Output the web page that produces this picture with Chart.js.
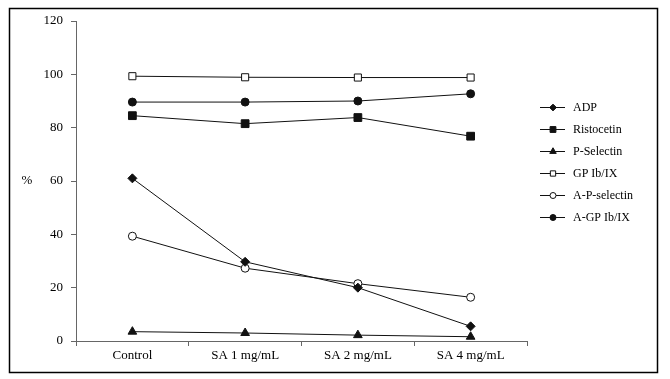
<!DOCTYPE html>
<html>
<head>
<meta charset="utf-8">
<script src="https://cdn.jsdelivr.net/npm/chart.js@4.4.1/dist/chart.umd.min.js"></script>
<style>
  html, body { margin: 0; padding: 0; background: #fff; }
  #wrap { width: 670px; height: 379px; }
</style>
</head>
<body>
<div id="wrap"><canvas id="chart" width="670" height="379"></canvas></div>
<script>
// categories and series (%)
const categories = ['Control', 'SA 1 mg/mL', 'SA 2 mg/mL', 'SA 4 mg/mL'];
const adp = [61, 29.7, 20, 5.5];
const ristocetin = [84.5, 81.5, 83.8, 76.8];
const pSelectin = [3.5, 3, 2.2, 1.6];
const gpIbIX = [99.3, 98.9, 98.8, 98.8];
const aPSelectin = [39.3, 27.3, 21.5, 16.4];
const aGpIbIX = [89.6, 89.6, 90, 92.7];
const yTicks = [0, 20, 40, 60, 80, 100, 120];

const serif = '"Liberation Serif", "Times New Roman", serif';

function series(label, data, style, radius, fill) {
  return {
    label: label,
    data: data,
    borderColor: '#111',
    borderWidth: 1,
    pointStyle: style,
    pointRadius: radius,
    pointHoverRadius: radius,
    pointBackgroundColor: fill,
    pointBorderColor: '#111',
    pointBorderWidth: 1,
    tension: 0,
    fill: false
  };
}

const datasets = [
  series('ADP', adp, 'rectRot', 4.5, '#111'),
  series('Ristocetin', ristocetin, 'rect', 5.5, '#111'),
  series('P-Selectin', pSelectin, 'triangle', 5, '#111'),
  series('GP Ib/IX', gpIbIX, 'rect', 5, '#fff'),
  series('A-P-selectin', aPSelectin, 'circle', 4, '#fff'),
  series('A-GP Ib/IX', aGpIbIX, 'circle', 4, '#111')
];

// frame, "%" label and line+marker legend
const extras = {
  id: 'extras',
  afterDraw(chart) {
    const ctx = chart.ctx;
    ctx.save();
    ctx.strokeStyle = '#000';
    ctx.lineWidth = 1.5;
    ctx.strokeRect(9.5, 8.5, 648, 364);

    ctx.fillStyle = '#000';
    ctx.font = '13px ' + serif;
    ctx.textAlign = 'center';
    ctx.textBaseline = 'middle';
    const ys = chart.scales.y;
    ctx.fillText('%', 27, ys.getPixelForValue(60));

    ctx.font = '12px ' + serif;
    ctx.textAlign = 'left';
    chart.data.datasets.forEach((ds, i) => {
      const y = 107.5 + i * 22;
      ctx.strokeStyle = '#111';
      ctx.lineWidth = 1;
      ctx.beginPath();
      ctx.moveTo(540, y);
      ctx.lineTo(565, y);
      ctx.stroke();
      ctx.fillStyle = ds.pointBackgroundColor;
      ctx.strokeStyle = '#111';
      Chart.helpers.drawPoint(ctx, {
        pointStyle: ds.pointStyle,
        radius: ds.pointRadius * 0.75,
        rotation: 0,
        borderWidth: 1
      }, 553, y);
      ctx.fillStyle = '#000';
      ctx.fillText(ds.label, 573, y);
    });
    ctx.restore();
  }
};

new Chart(document.getElementById('chart'), {
  type: 'line',
  data: { labels: categories, datasets: datasets },
  options: {
    responsive: false,
    animation: false,
    layout: { padding: { left: 0, right: 143, top: 21, bottom: 0 } },
    plugins: {
      legend: { display: false },
      tooltip: { enabled: false }
    },
    scales: {
      x: {
        offset: true,
        grid: {
          offset: true,
          drawOnChartArea: false,
          drawTicks: true,
          tickLength: 5,
          color: '#666'
        },
        border: { color: '#666', width: 1 },
        ticks: {
          color: '#000',
          font: { family: serif, size: 13 },
          padding: 2,
          maxRotation: 0
        },
        afterFit(scale) { scale.height = 38; }
      },
      y: {
        min: 0,
        max: 120,
        afterBuildTicks(scale) { scale.ticks = yTicks.map(v => ({ value: v })); },
        grid: {
          drawOnChartArea: false,
          drawTicks: true,
          tickLength: 5,
          color: '#666'
        },
        border: { color: '#666', width: 1 },
        ticks: {
          color: '#000',
          font: { family: serif, size: 13 },
          padding: 8
        },
        afterFit(scale) { scale.width = 76; }
      }
    }
  },
  plugins: [extras]
});
</script>
</body>
</html>
